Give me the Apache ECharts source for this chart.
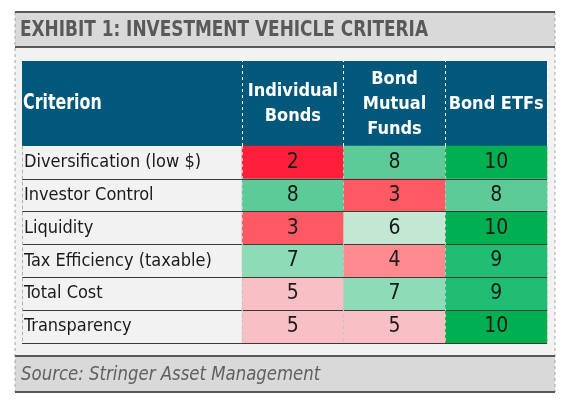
<!DOCTYPE html>
<html>
<head>
<meta charset="utf-8">
<script src="https://cdn.jsdelivr.net/npm/echarts@6/dist/echarts.min.js"></script>
<style>
html,body{margin:0;padding:0;background:#fff;}
#c{width:574px;height:411px;}
</style>
</head>
<body>
<div id="c"></div>
<script>
var titleText = 'EXHIBIT 1: INVESTMENT VEHICLE CRITERIA';
var sourceText = 'Source: Stringer Asset Management';
var headerFirst = 'Criterion';
var criteria = ['Diversification (low $)', 'Investor Control', 'Liquidity', 'Tax Efficiency (taxable)', 'Total Cost', 'Transparency'];
var vehicles = ['Individual\nBonds', 'Bond\nMutual\nFunds', 'Bond ETFs'];
var individualBonds = [2, 8, 3, 7, 5, 5];
var bondMutualFunds = [8, 3, 6, 4, 7, 5];
var bondETFs = [10, 8, 10, 9, 9, 10];
var scoreColors = {2:'#FF1F3A',3:'#FF5A64',4:'#FF8B8F',5:'#F8C0C4',6:'#C2E8D4',7:'#8EDCB7',8:'#5CCB97',9:'#1FBE73',10:'#00B050'};

var FONT = '"DejaVu Sans Condensed","Liberation Sans",sans-serif';
var cols = [individualBonds, bondMutualFunds, bondETFs];
var data = [];
cols.forEach(function(col, ci){ col.forEach(function(v, ri){ data.push([ci, ri, v]); }); });
var pieces = Object.keys(scoreColors).map(function(k){ return {value:+k, color:scoreColors[k]}; });

var chart = echarts.init(document.getElementById('c'));
chart.setOption({
  animation:false,
  textStyle:{fontFamily:FONT},
  visualMap:{type:'piecewise', show:false, dimension:2, seriesIndex:0, pieces:pieces},
  grid:[
    {left:22, width:220, top:146, height:197},
    {left:242, right:27, top:146, height:197}
  ],
  xAxis:[
    {gridIndex:0, type:'category', data:[headerFirst], show:false},
    {gridIndex:1, type:'category', data:vehicles, position:'top', z:5,
     axisLine:{show:false},
     axisTick:{show:true, interval:0, length:85, lineStyle:{color:'#ffffff', type:[3,3], width:1}},
     axisLabel:{interval:0, color:'#ffffff', fontWeight:'bold', fontSize:18, lineHeight:25, fontFamily:FONT, margin:42, verticalAlign:'middle'},
     splitLine:{show:true, interval:0, lineStyle:{color:'#c4c4c4', type:[3,3], width:1}}}
  ],
  yAxis:[
    {gridIndex:0, type:'category', data:criteria, inverse:true,
     axisLine:{show:true, lineStyle:{color:'#b0b0b0', type:[3,3], width:1}},
     axisTick:{show:false},
     axisLabel:{interval:0, inside:true, margin:2, fontSize:18, color:'#1a1a1a', fontFamily:FONT},
     splitLine:{show:true, interval:0, showMinLine:false, showMaxLine:true, lineStyle:{color:'#3a3a3a', width:1}}},
    {gridIndex:1, type:'category', data:criteria, inverse:true, z:5,
     axisLine:{show:false}, axisTick:{show:false}, axisLabel:{show:false},
     splitLine:{show:true, interval:0, showMinLine:false, showMaxLine:true, lineStyle:{color:'#3a3a3a', width:1}}}
  ],
  series:[{
    type:'heatmap', xAxisIndex:1, yAxisIndex:1, data:data,
    label:{show:true, fontSize:21, color:'#1a1a1a', fontFamily:FONT},
    itemStyle:{borderWidth:0}
  }],
  graphic:[
    {type:'rect', z:-10, shape:{x:15, y:12, width:540, height:380}, style:{fill:'#f2f2f2'}},
    {type:'rect', z:-9, shape:{x:15, y:12, width:540, height:35}, style:{fill:'#d9d9d9'}},
    {type:'rect', z:-9, shape:{x:15, y:356, width:540, height:36}, style:{fill:'#d9d9d9'}},
    {type:'line', z:-8, shape:{x1:15, y1:12, x2:15, y2:392}, style:{stroke:'#a6a6a6', lineWidth:1, lineDash:[3,3]}},
    {type:'line', z:-8, shape:{x1:555, y1:12, x2:555, y2:392}, style:{stroke:'#a6a6a6', lineWidth:1, lineDash:[3,3]}},
    {type:'line', z:-7, shape:{x1:15, y1:12, x2:555, y2:12}, style:{stroke:'#595959', lineWidth:2}},
    {type:'line', z:-7, shape:{x1:15, y1:47, x2:555, y2:47}, style:{stroke:'#595959', lineWidth:2}},
    {type:'line', z:-7, shape:{x1:15, y1:356, x2:555, y2:356}, style:{stroke:'#595959', lineWidth:2}},
    {type:'line', z:-7, shape:{x1:15, y1:392, x2:555, y2:392}, style:{stroke:'#595959', lineWidth:2}},
    {type:'rect', z:0, shape:{x:22, y:61, width:525, height:85}, style:{fill:'#02587A'}},
    {type:'text', z:1, x:23, y:104, scaleX:0.84, style:{text:headerFirst, fill:'#ffffff', font:'bold 21px '+FONT, verticalAlign:'middle', textVerticalAlign:'middle'}},
    {type:'text', z:1, x:20, y:30, scaleX:0.855, style:{text:titleText, fill:'#595959', font:'bold 22px '+FONT, verticalAlign:'middle', textVerticalAlign:'middle'}},
    {type:'text', z:1, x:21, y:375, scaleX:0.92, style:{text:sourceText, fill:'#606060', font:'italic 20px '+FONT, verticalAlign:'middle', textVerticalAlign:'middle'}}
  ]
});
</script>
</body>
</html>
